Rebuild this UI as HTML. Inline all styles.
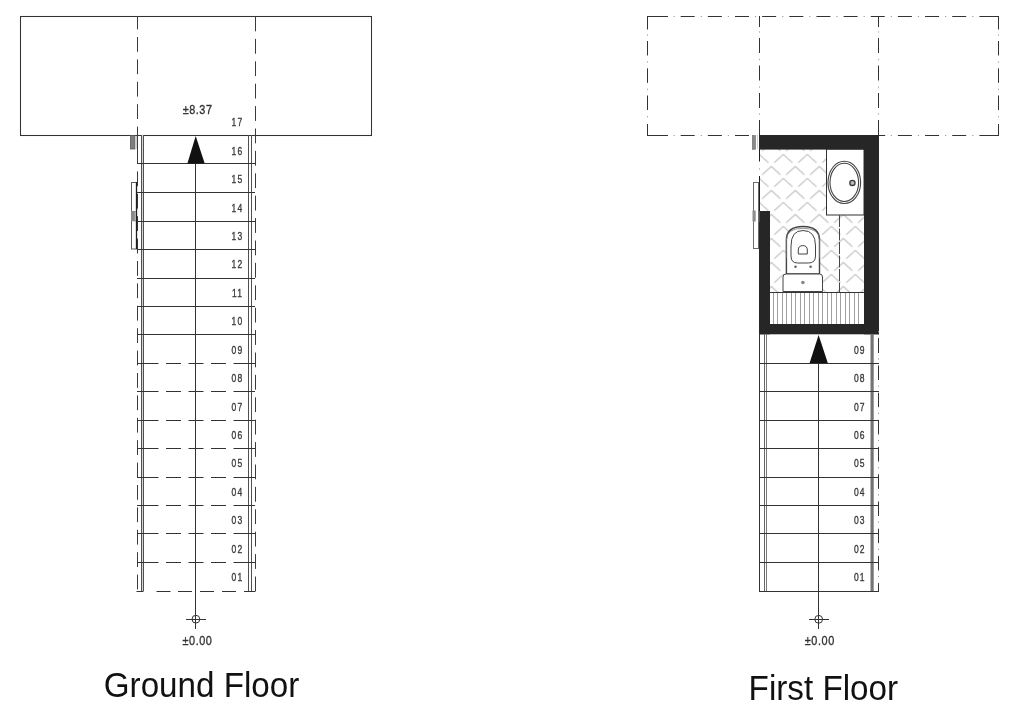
<!DOCTYPE html>
<html><head><meta charset="utf-8"><style>
html,body{margin:0;padding:0;background:#fff;}
body{width:1022px;height:713px;overflow:hidden;}
svg{display:block;will-change:transform;font-family:"Liberation Sans", sans-serif;}
</style></head><body>
<svg width="1022" height="713" viewBox="0 0 1022 713">
<rect x="0" y="0" width="1022" height="713" fill="#fff"/>
<rect x="20.5" y="16.5" width="351" height="119" fill="none" stroke="#333" stroke-width="1.05" />
<path d="M137.5,16L137.5,29.4 M137.5,37.0L137.5,51.8 M137.5,59.4L137.5,74.2 M137.5,81.8L137.5,96.6 M137.5,104.19999999999999L137.5,118.99999999999999 M137.5,126.6L137.5,135 M137.5,171.4L137.5,186.20000000000002 M137.5,193.8L137.5,208.60000000000002 M137.5,216.20000000000002L137.5,231.00000000000003 M137.5,238.60000000000002L137.5,253.40000000000003 M137.5,261.0L137.5,275.8 M137.5,283.4L137.5,298.2 M137.5,305.79999999999995L137.5,320.59999999999997 M137.5,328.19999999999993L137.5,342.99999999999994 M137.5,350.5999999999999L137.5,365.3999999999999 M137.5,372.9999999999999L137.5,387.7999999999999 M137.5,395.39999999999986L137.5,410.1999999999999 M137.5,417.79999999999984L137.5,432.59999999999985 M137.5,440.1999999999998L137.5,454.99999999999983 M137.5,462.5999999999998L137.5,477.3999999999998 M137.5,484.9999999999998L137.5,499.7999999999998 M137.5,507.39999999999975L137.5,522.1999999999997 M137.5,529.7999999999997L137.5,544.5999999999997 M137.5,552.1999999999997L137.5,566.9999999999997 M137.5,574.5999999999997L137.5,589.3999999999996 M137.5,135L137.5,163.6" stroke="#3a3a3a" stroke-width="1" fill="none"/>
<path d="M255.5,16.5L255.5,31.3 M255.5,38.9L255.5,53.7 M255.5,61.3L255.5,76.1 M255.5,83.69999999999999L255.5,98.49999999999999 M255.5,106.1L255.5,120.89999999999999 M255.5,128.5L255.5,143.3 M255.5,150.9L255.5,165.70000000000002 M255.5,173.3L255.5,188.10000000000002 M255.5,195.70000000000002L255.5,210.50000000000003 M255.5,218.10000000000002L255.5,232.90000000000003 M255.5,240.50000000000003L255.5,255.30000000000004 M255.5,262.90000000000003L255.5,277.70000000000005 M255.5,285.3L255.5,300.1 M255.5,307.7L255.5,322.5 M255.5,330.09999999999997L255.5,344.9 M255.5,352.49999999999994L255.5,367.29999999999995 M255.5,374.8999999999999L255.5,389.69999999999993 M255.5,397.2999999999999L255.5,412.0999999999999 M255.5,419.6999999999999L255.5,434.4999999999999 M255.5,442.09999999999985L255.5,456.89999999999986 M255.5,464.49999999999983L255.5,479.29999999999984 M255.5,486.8999999999998L255.5,501.6999999999998 M255.5,509.2999999999998L255.5,524.0999999999998 M255.5,531.6999999999998L255.5,546.4999999999998 M255.5,554.0999999999998L255.5,568.8999999999997 M255.5,576.4999999999998L255.5,591" stroke="#3a3a3a" stroke-width="1" fill="none"/>
<rect x="142" y="135" width="1" height="456" fill="#d4d4d4" stroke="none" stroke-width="1" />
<line x1="141.5" y1="135" x2="141.5" y2="591" stroke="#505050" stroke-width="1"/>
<line x1="143.5" y1="135" x2="143.5" y2="591" stroke="#505050" stroke-width="1"/>
<line x1="248.5" y1="135" x2="248.5" y2="591" stroke="#505050" stroke-width="1"/>
<line x1="251.5" y1="135" x2="251.5" y2="591" stroke="#505050" stroke-width="1"/>
<line x1="137" y1="163.5" x2="255" y2="163.5" stroke="#333" stroke-width="1"/>
<line x1="137" y1="192.5" x2="255" y2="192.5" stroke="#333" stroke-width="1"/>
<line x1="137" y1="221.5" x2="255" y2="221.5" stroke="#333" stroke-width="1"/>
<line x1="137" y1="249.5" x2="255" y2="249.5" stroke="#333" stroke-width="1"/>
<line x1="137" y1="278.5" x2="255" y2="278.5" stroke="#333" stroke-width="1"/>
<line x1="137" y1="306.5" x2="255" y2="306.5" stroke="#333" stroke-width="1"/>
<line x1="137" y1="334.5" x2="255" y2="334.5" stroke="#333" stroke-width="1"/>
<path d="M137,363.5L158.5,363.5 M166,363.5L181,363.5 M188.5,363.5L203.5,363.5 M211,363.5L226,363.5 M233.5,363.5L255,363.5" stroke="#333" stroke-width="1" fill="none"/>
<path d="M137,391.5L158.5,391.5 M166,391.5L181,391.5 M188.5,391.5L203.5,391.5 M211,391.5L226,391.5 M233.5,391.5L255,391.5" stroke="#333" stroke-width="1" fill="none"/>
<path d="M137,420.5L158.5,420.5 M166,420.5L181,420.5 M188.5,420.5L203.5,420.5 M211,420.5L226,420.5 M233.5,420.5L255,420.5" stroke="#333" stroke-width="1" fill="none"/>
<path d="M137,448.5L158.5,448.5 M166,448.5L181,448.5 M188.5,448.5L203.5,448.5 M211,448.5L226,448.5 M233.5,448.5L255,448.5" stroke="#333" stroke-width="1" fill="none"/>
<path d="M137,477.5L158.5,477.5 M166,477.5L181,477.5 M188.5,477.5L203.5,477.5 M211,477.5L226,477.5 M233.5,477.5L255,477.5" stroke="#333" stroke-width="1" fill="none"/>
<path d="M137,505.5L158.5,505.5 M166,505.5L181,505.5 M188.5,505.5L203.5,505.5 M211,505.5L226,505.5 M233.5,505.5L255,505.5" stroke="#333" stroke-width="1" fill="none"/>
<path d="M137,533.5L158.5,533.5 M166,533.5L181,533.5 M188.5,533.5L203.5,533.5 M211,533.5L226,533.5 M233.5,533.5L255,533.5" stroke="#333" stroke-width="1" fill="none"/>
<path d="M137,562.5L158.5,562.5 M166,562.5L181,562.5 M188.5,562.5L203.5,562.5 M211,562.5L226,562.5 M233.5,562.5L255,562.5" stroke="#333" stroke-width="1" fill="none"/>
<path d="M136.5,591.5L143.5,591.5 M156.5,591.5L170.5,591.5 M178,591.5L192,591.5 M200,591.5L214,591.5 M222,591.5L236,591.5 M244,591.5L255.5,591.5" stroke="#333" stroke-width="1" fill="none"/>
<line x1="195.5" y1="163" x2="195.5" y2="629" stroke="#333" stroke-width="1"/>
<polygon points="195.7,136 187.4,163.5 204.7,163.5" fill="#111"/>
<rect x="130.5" y="135.5" width="4.5" height="13.5" fill="#7d7d7d" stroke="#5a5a5a" stroke-width="0.8" />
<rect x="135" y="136" width="2" height="13" fill="#cfcfcf" stroke="none" stroke-width="1" />
<rect x="131.5" y="182.5" width="5" height="66.5" fill="none" stroke="#5a5a5a" stroke-width="1" />
<rect x="131" y="211" width="6" height="10.3" fill="#8a8a8a" stroke="none" stroke-width="1" />
<rect x="134.8" y="211.5" width="2" height="9" fill="#cccccc" stroke="none" stroke-width="1" />
<line x1="136.5" y1="182" x2="136.5" y2="249" stroke="#1e1e1e" stroke-width="1.3"/>
<text transform="translate(237.5,125.9) scale(0.78,1)" x="0" y="0" font-size="10.9" fill="#3a3a3a" text-anchor="middle" letter-spacing="1.5" font-weight="normal" stroke="#3a3a3a" stroke-width="0.35">17</text>
<text transform="translate(237.5,154.9) scale(0.78,1)" x="0" y="0" font-size="10.9" fill="#3a3a3a" text-anchor="middle" letter-spacing="1.5" font-weight="normal" stroke="#3a3a3a" stroke-width="0.35">16</text>
<text transform="translate(237.5,183.1) scale(0.78,1)" x="0" y="0" font-size="10.9" fill="#3a3a3a" text-anchor="middle" letter-spacing="1.5" font-weight="normal" stroke="#3a3a3a" stroke-width="0.35">15</text>
<text transform="translate(237.5,211.5) scale(0.78,1)" x="0" y="0" font-size="10.9" fill="#3a3a3a" text-anchor="middle" letter-spacing="1.5" font-weight="normal" stroke="#3a3a3a" stroke-width="0.35">14</text>
<text transform="translate(237.5,239.9) scale(0.78,1)" x="0" y="0" font-size="10.9" fill="#3a3a3a" text-anchor="middle" letter-spacing="1.5" font-weight="normal" stroke="#3a3a3a" stroke-width="0.35">13</text>
<text transform="translate(237.5,268.29999999999995) scale(0.78,1)" x="0" y="0" font-size="10.9" fill="#3a3a3a" text-anchor="middle" letter-spacing="1.5" font-weight="normal" stroke="#3a3a3a" stroke-width="0.35">12</text>
<text transform="translate(237.5,296.7) scale(0.78,1)" x="0" y="0" font-size="10.9" fill="#3a3a3a" text-anchor="middle" letter-spacing="1.5" font-weight="normal" stroke="#3a3a3a" stroke-width="0.35">11</text>
<text transform="translate(237.5,325.09999999999997) scale(0.78,1)" x="0" y="0" font-size="10.9" fill="#3a3a3a" text-anchor="middle" letter-spacing="1.5" font-weight="normal" stroke="#3a3a3a" stroke-width="0.35">10</text>
<text transform="translate(237.5,353.7) scale(0.78,1)" x="0" y="0" font-size="10.9" fill="#3a3a3a" text-anchor="middle" letter-spacing="1.5" font-weight="normal" stroke="#3a3a3a" stroke-width="0.35">09</text>
<text transform="translate(237.5,382.09999999999997) scale(0.78,1)" x="0" y="0" font-size="10.9" fill="#3a3a3a" text-anchor="middle" letter-spacing="1.5" font-weight="normal" stroke="#3a3a3a" stroke-width="0.35">08</text>
<text transform="translate(237.5,410.7) scale(0.78,1)" x="0" y="0" font-size="10.9" fill="#3a3a3a" text-anchor="middle" letter-spacing="1.5" font-weight="normal" stroke="#3a3a3a" stroke-width="0.35">07</text>
<text transform="translate(237.5,438.9) scale(0.78,1)" x="0" y="0" font-size="10.9" fill="#3a3a3a" text-anchor="middle" letter-spacing="1.5" font-weight="normal" stroke="#3a3a3a" stroke-width="0.35">06</text>
<text transform="translate(237.5,467.4) scale(0.78,1)" x="0" y="0" font-size="10.9" fill="#3a3a3a" text-anchor="middle" letter-spacing="1.5" font-weight="normal" stroke="#3a3a3a" stroke-width="0.35">05</text>
<text transform="translate(237.5,495.79999999999995) scale(0.78,1)" x="0" y="0" font-size="10.9" fill="#3a3a3a" text-anchor="middle" letter-spacing="1.5" font-weight="normal" stroke="#3a3a3a" stroke-width="0.35">04</text>
<text transform="translate(237.5,524.3) scale(0.78,1)" x="0" y="0" font-size="10.9" fill="#3a3a3a" text-anchor="middle" letter-spacing="1.5" font-weight="normal" stroke="#3a3a3a" stroke-width="0.35">03</text>
<text transform="translate(237.5,552.9) scale(0.78,1)" x="0" y="0" font-size="10.9" fill="#3a3a3a" text-anchor="middle" letter-spacing="1.5" font-weight="normal" stroke="#3a3a3a" stroke-width="0.35">02</text>
<text transform="translate(237.5,581.1) scale(0.78,1)" x="0" y="0" font-size="10.9" fill="#3a3a3a" text-anchor="middle" letter-spacing="1.5" font-weight="normal" stroke="#3a3a3a" stroke-width="0.35">01</text>
<text transform="translate(197.6,114.3) scale(0.8,1)" x="0" y="0" font-size="13.6" fill="#333" text-anchor="middle" letter-spacing="0.7" font-weight="normal" stroke="#333" stroke-width="0.35">±8.37</text>
<circle cx="195.9" cy="619.2" r="3.9" fill="none" stroke="#333" stroke-width="1"/>
<line x1="186" y1="619.5" x2="206" y2="619.5" stroke="#333" stroke-width="1"/>
<text transform="translate(197.5,645.0) scale(0.8,1)" x="0" y="0" font-size="13.6" fill="#333" text-anchor="middle" letter-spacing="0.7" font-weight="normal" stroke="#333" stroke-width="0.35">±0.00</text>
<path d="M647,16.5L668,16.5 M680.7,16.5L694.7,16.5 M707.85,16.5L721.85,16.5 M735.0,16.5L749.0,16.5 M762.15,16.5L776.15,16.5 M789.3,16.5L803.3,16.5 M816.4499999999999,16.5L830.4499999999999,16.5 M843.5999999999999,16.5L857.5999999999999,16.5 M870.7499999999999,16.5L884.7499999999999,16.5 M897.8999999999999,16.5L911.8999999999999,16.5 M925.0499999999998,16.5L939.0499999999998,16.5 M952.1999999999998,16.5L966.1999999999998,16.5 M979.4,16.5L999,16.5" stroke="#333" stroke-width="1" fill="none"/>
<rect x="673.5" y="16" width="1.2" height="1" fill="#9a9a9a" stroke="none" stroke-width="1" />
<rect x="700.65" y="16" width="1.2" height="1" fill="#9a9a9a" stroke="none" stroke-width="1" />
<rect x="727.8" y="16" width="1.2" height="1" fill="#9a9a9a" stroke="none" stroke-width="1" />
<rect x="754.9499999999999" y="16" width="1.2" height="1" fill="#9a9a9a" stroke="none" stroke-width="1" />
<rect x="782.0999999999999" y="16" width="1.2" height="1" fill="#9a9a9a" stroke="none" stroke-width="1" />
<rect x="809.2499999999999" y="16" width="1.2" height="1" fill="#9a9a9a" stroke="none" stroke-width="1" />
<rect x="836.3999999999999" y="16" width="1.2" height="1" fill="#9a9a9a" stroke="none" stroke-width="1" />
<rect x="863.5499999999998" y="16" width="1.2" height="1" fill="#9a9a9a" stroke="none" stroke-width="1" />
<rect x="890.6999999999998" y="16" width="1.2" height="1" fill="#9a9a9a" stroke="none" stroke-width="1" />
<rect x="917.8499999999998" y="16" width="1.2" height="1" fill="#9a9a9a" stroke="none" stroke-width="1" />
<rect x="944.9999999999998" y="16" width="1.2" height="1" fill="#9a9a9a" stroke="none" stroke-width="1" />
<rect x="972.1999999999999" y="16" width="1.2" height="1" fill="#9a9a9a" stroke="none" stroke-width="1" />
<path d="M647,135.5L668,135.5 M680.7,135.5L694.7,135.5 M707.85,135.5L721.85,135.5 M735.0,135.5L749.0,135.5 M878.5,135.5L885.2,135.5 M897.8999999999999,135.5L911.8999999999999,135.5 M925.0499999999998,135.5L939.0499999999998,135.5 M952.1999999999998,135.5L966.1999999999998,135.5 M979.4,135.5L999,135.5" stroke="#333" stroke-width="1" fill="none"/>
<rect x="673.5" y="135" width="1.2" height="1" fill="#9a9a9a" stroke="none" stroke-width="1" />
<rect x="700.65" y="135" width="1.2" height="1" fill="#9a9a9a" stroke="none" stroke-width="1" />
<rect x="727.8" y="135" width="1.2" height="1" fill="#9a9a9a" stroke="none" stroke-width="1" />
<rect x="890.6999999999998" y="135" width="1.2" height="1" fill="#9a9a9a" stroke="none" stroke-width="1" />
<rect x="917.8499999999998" y="135" width="1.2" height="1" fill="#9a9a9a" stroke="none" stroke-width="1" />
<rect x="944.9999999999998" y="135" width="1.2" height="1" fill="#9a9a9a" stroke="none" stroke-width="1" />
<rect x="972.1999999999999" y="135" width="1.2" height="1" fill="#9a9a9a" stroke="none" stroke-width="1" />
<path d="M647.5,16L647.5,29.5 M647.5,41L647.5,55.5 M647.5,68.3L647.5,82.9 M647.5,95.5L647.5,110 M647.5,124L647.5,135.5" stroke="#333" stroke-width="1" fill="none"/>
<path d="M998.5,16L998.5,29.5 M998.5,41L998.5,55.5 M998.5,68.3L998.5,82.9 M998.5,95.5L998.5,110 M998.5,124L998.5,135.5" stroke="#333" stroke-width="1" fill="none"/>
<rect x="647" y="34.4" width="1" height="1.2" fill="#9a9a9a" stroke="none" stroke-width="1" />
<rect x="647" y="61.4" width="1" height="1.2" fill="#9a9a9a" stroke="none" stroke-width="1" />
<rect x="647" y="88.7" width="1" height="1.2" fill="#9a9a9a" stroke="none" stroke-width="1" />
<rect x="647" y="116.10000000000001" width="1" height="1.2" fill="#9a9a9a" stroke="none" stroke-width="1" />
<rect x="998" y="34.4" width="1" height="1.2" fill="#9a9a9a" stroke="none" stroke-width="1" />
<rect x="998" y="61.4" width="1" height="1.2" fill="#9a9a9a" stroke="none" stroke-width="1" />
<rect x="998" y="88.7" width="1" height="1.2" fill="#9a9a9a" stroke="none" stroke-width="1" />
<rect x="998" y="116.10000000000001" width="1" height="1.2" fill="#9a9a9a" stroke="none" stroke-width="1" />
<path d="M759.5,16L759.5,27 M759.5,38L759.5,53 M759.5,65.5L759.5,80.5 M759.5,93L759.5,108 M759.5,120L759.5,135" stroke="#333" stroke-width="1" fill="none"/>
<path d="M878.5,16L878.5,27 M878.5,38L878.5,53 M878.5,65.5L878.5,80.5 M878.5,93L878.5,108 M878.5,120L878.5,135" stroke="#333" stroke-width="1" fill="none"/>
<rect x="759" y="31.4" width="1" height="1.2" fill="#9a9a9a" stroke="none" stroke-width="1" />
<rect x="759" y="58.9" width="1" height="1.2" fill="#9a9a9a" stroke="none" stroke-width="1" />
<rect x="759" y="86.4" width="1" height="1.2" fill="#9a9a9a" stroke="none" stroke-width="1" />
<rect x="759" y="113.4" width="1" height="1.2" fill="#9a9a9a" stroke="none" stroke-width="1" />
<rect x="878" y="31.4" width="1" height="1.2" fill="#9a9a9a" stroke="none" stroke-width="1" />
<rect x="878" y="58.9" width="1" height="1.2" fill="#9a9a9a" stroke="none" stroke-width="1" />
<rect x="878" y="86.4" width="1" height="1.2" fill="#9a9a9a" stroke="none" stroke-width="1" />
<rect x="878" y="113.4" width="1" height="1.2" fill="#9a9a9a" stroke="none" stroke-width="1" />
<defs>
<pattern id="tile" x="771.4" y="154.2" width="24" height="24" patternUnits="userSpaceOnUse">
<path d="M2.7,8.6 L12,0.2 L21,8.6 M-9.3,20.6 L0,12.2 L9,20.6 M14.7,20.6 L24,12.2 L33,20.6" fill="none" stroke="#b8b8b8" stroke-width="1.05"/>
</pattern>
</defs>
<rect x="759" y="149" width="105" height="143" fill="url(#tile)" stroke="none" stroke-width="1" />
<rect x="826.5" y="149" width="37.5" height="66" fill="#fff" stroke="#333" stroke-width="1" />
<ellipse cx="844.3" cy="182.4" rx="16.3" ry="21.1" fill="none" stroke="#444" stroke-width="1.1"/>
<ellipse cx="844.3" cy="182.4" rx="14.3" ry="19.1" fill="none" stroke="#444" stroke-width="1.1"/>
<circle cx="852.4" cy="182.9" r="2.6" fill="#bbb" stroke="#3a3a3a" stroke-width="1.3"/>
<line x1="839.5" y1="215" x2="839.5" y2="292" stroke="#444" stroke-width="1" stroke-dasharray="12 1.5"/>
<path d="M786.4,274 L786.4,240 Q786.4,226.5 803,226.5 Q819.5,226.5 819.5,240 L819.5,274 Z" fill="#fff" stroke="#444" stroke-width="1.4"/>
<path d="M786.4,258 L786.4,240 Q786.4,228.3 803,228.3 Q819.5,228.3 819.5,240 L819.5,258" fill="none" stroke="#777" stroke-width="0.8"/>
<path d="M791,246 Q791,230.5 803,230.5 Q815.5,230.5 815.5,246 L815.5,256 Q815.5,263 808.5,263 L797.5,263 Q791,263 791,256 Z" fill="none" stroke="#444" stroke-width="1"/>
<path d="M798.3,250 Q798.3,245.6 802.8,245.6 Q807.3,245.6 807.3,250 L807.3,254 L798.3,254 Z" fill="none" stroke="#444" stroke-width="1"/>
<circle cx="795.5" cy="266.7" r="1.3" fill="#666"/>
<circle cx="810.6" cy="266.7" r="1.3" fill="#666"/>
<path d="M783,291.5 L783,277 Q783,274 786,274 L819.5,274 Q822.5,274 822.5,277 L822.5,291.5 Z" fill="#fff" stroke="#444" stroke-width="1"/>
<circle cx="802.9" cy="282.5" r="1.8" fill="#888"/>
<rect x="770" y="292" width="94" height="32" fill="#fff" stroke="none" stroke-width="1" />
<rect x="773" y="293" width="1" height="31" fill="#a0a0a0" stroke="none" stroke-width="1" />
<rect x="777" y="293" width="1" height="31" fill="#a0a0a0" stroke="none" stroke-width="1" />
<rect x="782" y="293" width="1" height="31" fill="#a0a0a0" stroke="none" stroke-width="1" />
<rect x="786" y="293" width="1" height="31" fill="#a0a0a0" stroke="none" stroke-width="1" />
<rect x="791" y="293" width="1" height="31" fill="#a0a0a0" stroke="none" stroke-width="1" />
<rect x="795" y="293" width="1" height="31" fill="#a0a0a0" stroke="none" stroke-width="1" />
<rect x="800" y="293" width="1" height="31" fill="#a0a0a0" stroke="none" stroke-width="1" />
<rect x="804" y="293" width="1" height="31" fill="#a0a0a0" stroke="none" stroke-width="1" />
<rect x="809" y="293" width="1" height="31" fill="#a0a0a0" stroke="none" stroke-width="1" />
<rect x="813" y="293" width="1" height="31" fill="#a0a0a0" stroke="none" stroke-width="1" />
<rect x="818" y="293" width="1" height="31" fill="#a0a0a0" stroke="none" stroke-width="1" />
<rect x="822" y="293" width="1" height="31" fill="#a0a0a0" stroke="none" stroke-width="1" />
<rect x="827" y="293" width="1" height="31" fill="#a0a0a0" stroke="none" stroke-width="1" />
<rect x="831" y="293" width="1" height="31" fill="#a0a0a0" stroke="none" stroke-width="1" />
<rect x="836" y="293" width="1" height="31" fill="#a0a0a0" stroke="none" stroke-width="1" />
<rect x="840" y="293" width="1" height="31" fill="#a0a0a0" stroke="none" stroke-width="1" />
<rect x="845" y="293" width="1" height="31" fill="#a0a0a0" stroke="none" stroke-width="1" />
<rect x="849" y="293" width="1" height="31" fill="#a0a0a0" stroke="none" stroke-width="1" />
<rect x="854" y="293" width="1" height="31" fill="#a0a0a0" stroke="none" stroke-width="1" />
<rect x="858" y="293" width="1" height="31" fill="#a0a0a0" stroke="none" stroke-width="1" />
<line x1="770" y1="292.5" x2="864" y2="292.5" stroke="#333" stroke-width="1"/>
<rect x="759" y="135" width="120" height="14.6" fill="#262626" stroke="none" stroke-width="1" />
<rect x="864" y="135" width="15" height="199.3" fill="#262626" stroke="none" stroke-width="1" />
<rect x="759" y="324" width="120" height="10.3" fill="#262626" stroke="none" stroke-width="1" />
<rect x="759" y="211" width="11" height="123.3" fill="#262626" stroke="none" stroke-width="1" />
<rect x="758" y="211" width="1.2" height="11" fill="#ddd" stroke="none" stroke-width="1" />
<path d="M759.5,149L759.5,161.5 M759.5,176L759.5,211" stroke="#1e1e1e" stroke-width="1" fill="none"/>
<rect x="759" y="168.4" width="1" height="1.2" fill="#9a9a9a" stroke="none" stroke-width="1" />
<rect x="752.3" y="135.5" width="3.2" height="13.8" fill="#8a8a8a" stroke="#6a6a6a" stroke-width="0.6" />
<line x1="757.5" y1="135" x2="757.5" y2="149" stroke="#cfcfcf" stroke-width="1"/>
<rect x="753.5" y="182.5" width="5" height="66" fill="none" stroke="#6a6a6a" stroke-width="1" />
<rect x="752.5" y="210.5" width="3.2" height="11" fill="#8e8e8e" stroke="none" stroke-width="1" />
<line x1="759.5" y1="334" x2="759.5" y2="591" stroke="#333" stroke-width="1"/>
<line x1="764.5" y1="334" x2="764.5" y2="591" stroke="#666" stroke-width="1"/>
<line x1="766.5" y1="334" x2="766.5" y2="591" stroke="#777" stroke-width="1"/>
<rect x="870.5" y="334" width="3.2" height="257" fill="#747474" stroke="none" stroke-width="1" />
<path d="M878.5,338.3L878.5,352.8 M878.5,338.3L878.5,352.8 M878.5,365.5L878.5,380.0 M878.5,392.7L878.5,407.2 M878.5,419.9L878.5,434.4 M878.5,447.09999999999997L878.5,461.59999999999997 M878.5,474.29999999999995L878.5,488.79999999999995 M878.5,501.49999999999994L878.5,516.0 M878.5,528.6999999999999L878.5,543.1999999999999 M878.5,555.9L878.5,570.4 M878.5,583.1L878.5,591" stroke="#333" stroke-width="1" fill="none"/>
<rect x="878" y="331.09999999999997" width="1" height="1.2" fill="#9a9a9a" stroke="none" stroke-width="1" />
<rect x="878" y="358.29999999999995" width="1" height="1.2" fill="#9a9a9a" stroke="none" stroke-width="1" />
<rect x="878" y="385.49999999999994" width="1" height="1.2" fill="#9a9a9a" stroke="none" stroke-width="1" />
<rect x="878" y="412.69999999999993" width="1" height="1.2" fill="#9a9a9a" stroke="none" stroke-width="1" />
<rect x="878" y="439.8999999999999" width="1" height="1.2" fill="#9a9a9a" stroke="none" stroke-width="1" />
<rect x="878" y="467.0999999999999" width="1" height="1.2" fill="#9a9a9a" stroke="none" stroke-width="1" />
<rect x="878" y="494.2999999999999" width="1" height="1.2" fill="#9a9a9a" stroke="none" stroke-width="1" />
<rect x="878" y="521.4999999999999" width="1" height="1.2" fill="#9a9a9a" stroke="none" stroke-width="1" />
<rect x="878" y="548.6999999999999" width="1" height="1.2" fill="#9a9a9a" stroke="none" stroke-width="1" />
<rect x="878" y="575.9" width="1" height="1.2" fill="#9a9a9a" stroke="none" stroke-width="1" />
<line x1="759" y1="363.5" x2="879" y2="363.5" stroke="#333" stroke-width="1"/>
<line x1="759" y1="391.5" x2="879" y2="391.5" stroke="#333" stroke-width="1"/>
<line x1="759" y1="420.5" x2="879" y2="420.5" stroke="#333" stroke-width="1"/>
<line x1="759" y1="448.5" x2="879" y2="448.5" stroke="#333" stroke-width="1"/>
<line x1="759" y1="477.5" x2="879" y2="477.5" stroke="#333" stroke-width="1"/>
<line x1="759" y1="505.5" x2="879" y2="505.5" stroke="#333" stroke-width="1"/>
<line x1="759" y1="533.5" x2="879" y2="533.5" stroke="#333" stroke-width="1"/>
<line x1="759" y1="562.5" x2="879" y2="562.5" stroke="#333" stroke-width="1"/>
<line x1="759" y1="591.5" x2="879" y2="591.5" stroke="#333" stroke-width="1"/>
<line x1="818.5" y1="363" x2="818.5" y2="629" stroke="#333" stroke-width="1"/>
<polygon points="818.6,335 809.6,363 827.8,363" fill="#111"/>
<text transform="translate(859.8,353.7) scale(0.78,1)" x="0" y="0" font-size="10.9" fill="#3a3a3a" text-anchor="middle" letter-spacing="1.5" font-weight="normal" stroke="#3a3a3a" stroke-width="0.35">09</text>
<text transform="translate(859.8,382.09999999999997) scale(0.78,1)" x="0" y="0" font-size="10.9" fill="#3a3a3a" text-anchor="middle" letter-spacing="1.5" font-weight="normal" stroke="#3a3a3a" stroke-width="0.35">08</text>
<text transform="translate(859.8,410.7) scale(0.78,1)" x="0" y="0" font-size="10.9" fill="#3a3a3a" text-anchor="middle" letter-spacing="1.5" font-weight="normal" stroke="#3a3a3a" stroke-width="0.35">07</text>
<text transform="translate(859.8,438.9) scale(0.78,1)" x="0" y="0" font-size="10.9" fill="#3a3a3a" text-anchor="middle" letter-spacing="1.5" font-weight="normal" stroke="#3a3a3a" stroke-width="0.35">06</text>
<text transform="translate(859.8,467.4) scale(0.78,1)" x="0" y="0" font-size="10.9" fill="#3a3a3a" text-anchor="middle" letter-spacing="1.5" font-weight="normal" stroke="#3a3a3a" stroke-width="0.35">05</text>
<text transform="translate(859.8,495.79999999999995) scale(0.78,1)" x="0" y="0" font-size="10.9" fill="#3a3a3a" text-anchor="middle" letter-spacing="1.5" font-weight="normal" stroke="#3a3a3a" stroke-width="0.35">04</text>
<text transform="translate(859.8,524.3) scale(0.78,1)" x="0" y="0" font-size="10.9" fill="#3a3a3a" text-anchor="middle" letter-spacing="1.5" font-weight="normal" stroke="#3a3a3a" stroke-width="0.35">03</text>
<text transform="translate(859.8,552.9) scale(0.78,1)" x="0" y="0" font-size="10.9" fill="#3a3a3a" text-anchor="middle" letter-spacing="1.5" font-weight="normal" stroke="#3a3a3a" stroke-width="0.35">02</text>
<text transform="translate(859.8,581.1) scale(0.78,1)" x="0" y="0" font-size="10.9" fill="#3a3a3a" text-anchor="middle" letter-spacing="1.5" font-weight="normal" stroke="#3a3a3a" stroke-width="0.35">01</text>
<circle cx="818.7" cy="619.3" r="3.9" fill="none" stroke="#333" stroke-width="1"/>
<line x1="809" y1="619.5" x2="829" y2="619.5" stroke="#333" stroke-width="1"/>
<text transform="translate(819.8,645.0) scale(0.8,1)" x="0" y="0" font-size="13.6" fill="#333" text-anchor="middle" letter-spacing="0.7" font-weight="normal" stroke="#333" stroke-width="0.35">±0.00</text>
<text x="103.8" y="696.8" font-size="34.6" fill="#111" textLength="195.5" lengthAdjust="spacingAndGlyphs">Ground Floor</text>
<text x="748.6" y="700.4" font-size="34.6" fill="#111" textLength="149.5" lengthAdjust="spacingAndGlyphs">First Floor</text>
</svg></body></html>
